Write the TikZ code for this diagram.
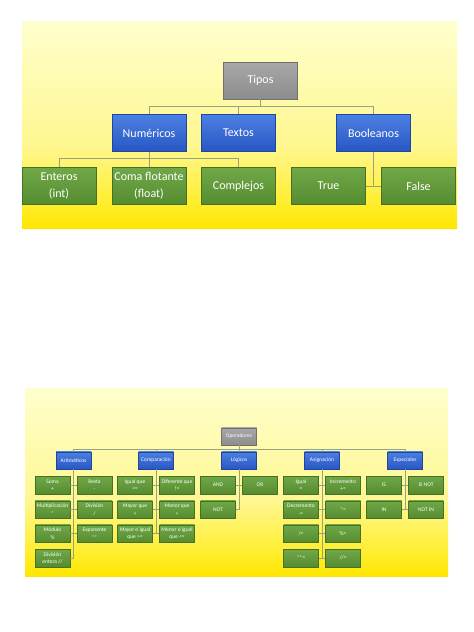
\documentclass[tikz,border=0pt]{standalone}
\usepackage{fontspec}
\setmainfont{Carlito}
\usetikzlibrary{positioning}
\definecolor{ylwT}{RGB}{255,255,205}
\definecolor{ylwM}{RGB}{255,247,145}
\definecolor{ylwL}{RGB}{255,238,45}
\definecolor{ylwB}{RGB}{255,230,0}
\definecolor{grisT}{RGB}{168,168,168}
\definecolor{grisB}{RGB}{140,140,140}
\definecolor{azulT}{RGB}{76,128,226}
\definecolor{azulB}{RGB}{40,86,196}
\definecolor{verdeT}{RGB}{112,168,72}
\definecolor{verdeB}{RGB}{86,140,48}
\definecolor{linea}{RGB}{150,162,130}
\pgfdeclareverticalshading{panel}{100bp}{color(0bp)=(ylwB); color(25bp)=(ylwB); color(31bp)=(ylwL); color(45bp)=(ylwM); color(75bp)=(ylwT); color(100bp)=(ylwT)}
\begin{document}
\begin{tikzpicture}[x=1pt,y=-1pt,
  g/.style={rectangle,draw=grisB!80!black,top color=grisT,bottom color=grisB,text=white,align=center,inner sep=1pt},
  b/.style={rectangle,draw=azulB!80!black,top color=azulT,bottom color=azulB,text=white,align=center,inner sep=1pt},
  v/.style={rectangle,draw=verdeB!80!black,top color=verdeT,bottom color=verdeB,text=white,align=center,inner sep=1pt},
  big/.style={minimum width=74pt,minimum height=37pt,font=\fontsize{12}{17}\selectfont},
  sml/.style={minimum width=35pt,minimum height=17.5pt,font=\fontsize{5.5}{7.5}\selectfont},
  c/.style={draw=linea,line width=0.8pt}]

\path[use as bounding box,fill=white] (0,0) rectangle (474,632);
\shade[shading=panel] (22,21) rectangle (457,228);
\shade[shading=panel] (25,388) rectangle (448,576);

\node[g, big] (tipos) at (260.5, 80.5) {Tipos};
\node[b, big] (num) at (149, 133) {Numéricos};
\node[b, big] (txt) at (238.5, 133) {Textos};
\node[b, big] (bool) at (373.5, 133) {Booleanos};
\node[v, big] (ent) at (59, 186) {Enteros\\(int)};
\node[v, big] (coma) at (149, 186) {Coma flotante\\(float)};
\node[v, big] (comp) at (238.5, 186) {Complejos};
\node[v, big] (true) at (328.5, 186) {True};
\node[v, big] (false) at (418.5, 186) {False};
\path[c] (tipos.south) -- ++(0,7.5) -| (num.north);
\path[c] (tipos.south) -- ++(0,7.5) -| (txt.north);
\path[c] (tipos.south) -- ++(0,7.5) -| (bool.north);
\path[c] (num.south) -- ++(0,7) -| (ent.north);
\path[c] (num.south) -- (coma.north);
\path[c] (num.south) -- ++(0,7) -| (comp.north);
\path[c] (bool.south) |- (true.east);
\path[c] (bool.south) |- (false.west);

\node[g, sml] (oper) at (239, 436.5) {Operadores};
\node[b, sml] (arit) at (73.5, 460.5) {Aritméticos};
\node[b, sml] (compa) at (156, 460.5) {Comparación};
\node[b, sml] (logi) at (239, 460.5) {Lógicos};
\node[b, sml] (asig) at (322, 460.5) {Asignación};
\node[b, sml] (espe) at (405, 460.5) {Especiales};
\foreach \n in {arit,compa,logi,asig,espe}
  \path[c] (oper.south) -- ++(0,4) -| (\n.north);

\node[v, sml] (suma) at ([xshift=-21pt] arit |- 0,485) {Suma\\+};
\node[v, sml] (resta) at ([xshift=21pt] arit |- 0,485) {Resta\\-};
\node[v, sml] (mult) at ([xshift=-21pt] arit |- 0,509.5) {Multiplicación\\*};
\node[v, sml] (divi) at ([xshift=21pt] arit |- 0,509.5) {División\\/};
\node[v, sml] (modu) at ([xshift=-21pt] arit |- 0,533.5) {Módulo\\\%};
\node[v, sml] (expo) at ([xshift=21pt] arit |- 0,533.5) {Exponente\\**};
\node[v, sml] (dent) at ([xshift=-21pt] arit |- 0,558) {División\\entera //};
\foreach \n in {suma,mult,modu,dent} \path[c] (arit.south) |- (\n.east);
\foreach \n in {resta,divi,expo} \path[c] (arit.south) |- (\n.west);

\node[v, sml] (igq) at ([xshift=-21pt] compa |- 0,485) {Igual que\\==};
\node[v, sml] (difq) at ([xshift=21pt] compa |- 0,485) {Diferente que\\!=};
\node[v, sml] (mayq) at ([xshift=-21pt] compa |- 0,509.5) {Mayor que\\>};
\node[v, sml] (menq) at ([xshift=21pt] compa |- 0,509.5) {Menor que\\<};
\node[v, sml] (mayi) at ([xshift=-21pt] compa |- 0,533.5) {Mayor o igual\\que >=};
\node[v, sml] (meni) at ([xshift=21pt] compa |- 0,533.5) {Menor o igual\\que <=};
\foreach \n in {igq,mayq,mayi} \path[c] (compa.south) |- (\n.east);
\foreach \n in {difq,menq,meni} \path[c] (compa.south) |- (\n.west);

\node[v, sml] (and) at ([xshift=-21pt] logi |- 0,485) {AND};
\node[v, sml] (or) at ([xshift=21pt] logi |- 0,485) {OR};
\node[v, sml] (not) at ([xshift=-21pt] logi |- 0,509.5) {NOT};
\foreach \n in {and,not} \path[c] (logi.south) |- (\n.east);
\path[c] (logi.south) |- (or.west);

\node[v, sml] (igual) at ([xshift=-21pt] asig |- 0,485) {Igual\\=};
\node[v, sml] (incr) at ([xshift=21pt] asig |- 0,485) {Incremento\\+=};
\node[v, sml] (decr) at ([xshift=-21pt] asig |- 0,509.5) {Decremento\\-=};
\node[v, sml] (pore) at ([xshift=21pt] asig |- 0,509.5) {*=};
\node[v, sml] (entre) at ([xshift=-21pt] asig |- 0,533.5) {/=};
\node[v, sml] (mode) at ([xshift=21pt] asig |- 0,533.5) {\%=};
\node[v, sml] (pote) at ([xshift=-21pt] asig |- 0,558) {**=};
\node[v, sml] (dive) at ([xshift=21pt] asig |- 0,558) {//=};
\foreach \n in {igual,decr,entre,pote} \path[c] (asig.south) |- (\n.east);
\foreach \n in {incr,pore,mode,dive} \path[c] (asig.south) |- (\n.west);

\node[v, sml] (is) at ([xshift=-21pt] espe |- 0,485) {IS};
\node[v, sml] (isnot) at ([xshift=21pt] espe |- 0,485) {IS NOT};
\node[v, sml] (in) at ([xshift=-21pt] espe |- 0,509.5) {IN};
\node[v, sml] (notin) at ([xshift=21pt] espe |- 0,509.5) {NOT IN};
\foreach \n in {is,in} \path[c] (espe.south) |- (\n.east);
\foreach \n in {isnot,notin} \path[c] (espe.south) |- (\n.west);

\end{tikzpicture}
\end{document}
